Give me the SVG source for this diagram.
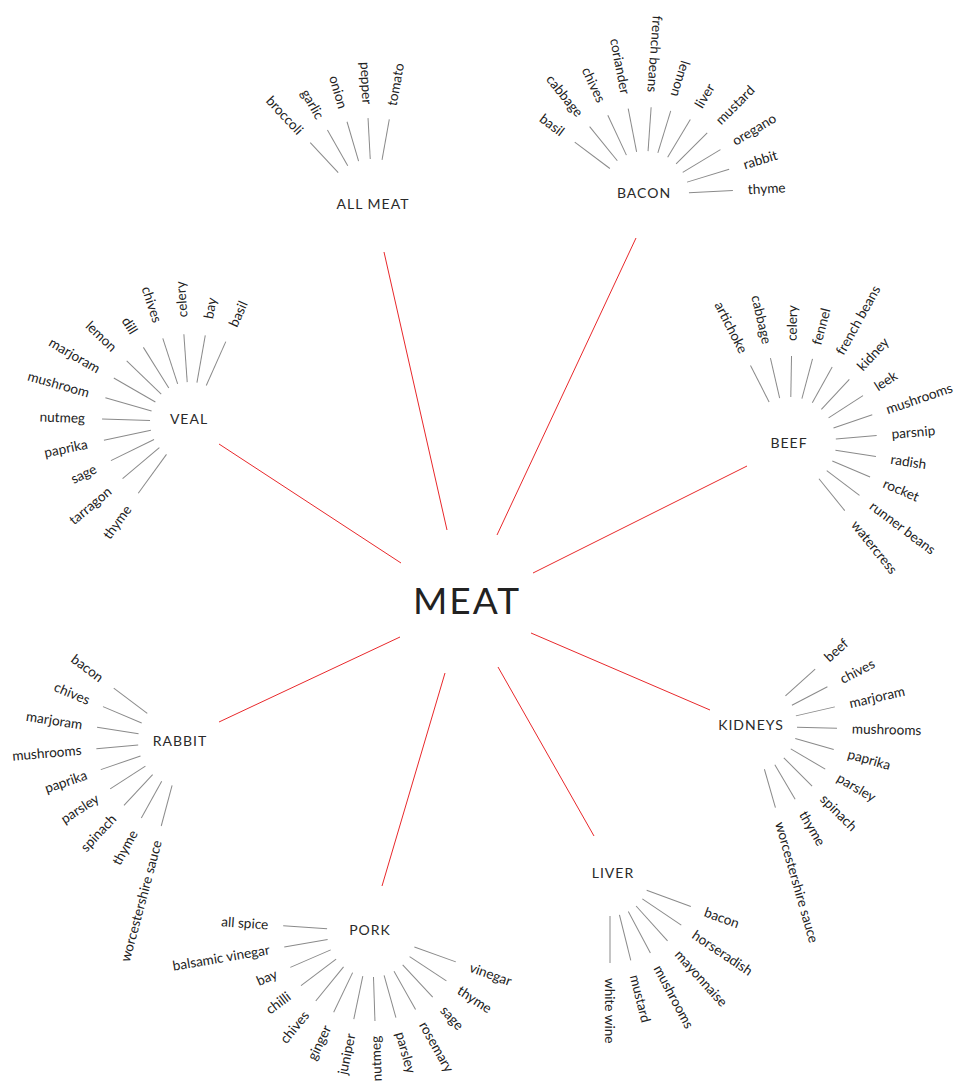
<svg xmlns="http://www.w3.org/2000/svg" width="967" height="1087" viewBox="0 0 967 1087">
<style>
.sp line{stroke:#8a8a8a;stroke-width:1}
.sp text{font-family:Lato,"Liberation Sans",sans-serif;font-size:13.6px;fill:#222}
.sp text.in{text-anchor:end}
.nl{font-family:Lato,"Liberation Sans",sans-serif;font-size:14px;letter-spacing:1px;fill:#2a2a2a;text-anchor:middle}
.main{font-family:Lato,"Liberation Sans",sans-serif;font-size:37px;letter-spacing:2px;fill:#222;text-anchor:middle}
.cn line{stroke:#e8282b;stroke-width:1}
</style>
<rect width="967" height="1087" fill="#fff"/>
<g id="connectors" class="cn">
<line x1="447" y1="530" x2="384" y2="252"/>
<line x1="497" y1="535" x2="636" y2="238"/>
<line x1="533" y1="573" x2="747" y2="466"/>
<line x1="531" y1="633" x2="710" y2="710"/>
<line x1="498" y1="667" x2="594" y2="836"/>
<line x1="445" y1="673" x2="382" y2="886"/>
<line x1="400" y1="637" x2="219" y2="722"/>
<line x1="401" y1="563" x2="219" y2="444"/>
</g>
<g id="node-meat"><text class="main" x="467" y="614">MEAT</text></g>
<g id="node-allmeat">
<text class="nl" x="373" y="209">ALL MEAT</text>
<g class="sp" transform="translate(373,210)">
<g transform="rotate(-133)"><line x1="51" x2="92"/><text class="in" transform="rotate(180)" x="-106" dy=".35em">broccoli</text></g>
<g transform="rotate(-119.7)"><line x1="51" x2="92"/><text class="in" transform="rotate(180)" x="-106" dy=".35em">garlic</text></g>
<g transform="rotate(-106.4)"><line x1="51" x2="92"/><text class="in" transform="rotate(180)" x="-106" dy=".35em">onion</text></g>
<g transform="rotate(-93.1)"><line x1="51" x2="92"/><text class="in" transform="rotate(180)" x="-106" dy=".35em">pepper</text></g>
<g transform="rotate(-79.8)"><line x1="51" x2="92"/><text x="106" dy=".35em">tomato</text></g>
</g>
</g>
<g id="node-bacon">
<text class="nl" x="644" y="198">BACON</text>
<g class="sp" transform="translate(645,195)">
<g transform="rotate(-143)"><line x1="44" x2="88"/><text class="in" transform="rotate(180)" x="-103" dy=".35em">basil</text></g>
<g transform="rotate(-129)"><line x1="44" x2="88"/><text class="in" transform="rotate(180)" x="-103" dy=".35em">cabbage</text></g>
<g transform="rotate(-115)"><line x1="44" x2="88"/><text class="in" transform="rotate(180)" x="-103" dy=".35em">chives</text></g>
<g transform="rotate(-101)"><line x1="44" x2="88"/><text class="in" transform="rotate(180)" x="-103" dy=".35em">coriander</text></g>
<g transform="rotate(-86)"><line x1="44" x2="88"/><text class="in" transform="rotate(180)" x="-103" dy=".35em">french beans</text></g>
<g transform="rotate(-73)"><line x1="44" x2="88"/><text class="in" transform="rotate(180)" x="-103" dy=".35em">lemon</text></g>
<g transform="rotate(-59)"><line x1="44" x2="88"/><text x="103" dy=".35em">liver</text></g>
<g transform="rotate(-45)"><line x1="44" x2="88"/><text x="103" dy=".35em">mustard</text></g>
<g transform="rotate(-31)"><line x1="44" x2="88"/><text x="103" dy=".35em">oregano</text></g>
<g transform="rotate(-17)"><line x1="44" x2="88"/><text x="103" dy=".35em">rabbit</text></g>
<g transform="rotate(-3)"><line x1="44" x2="88"/><text x="103" dy=".35em">thyme</text></g>
</g>
</g>
<g id="node-veal">
<text class="nl" x="189" y="424">VEAL</text>
<g class="sp" transform="translate(190,422)">
<g transform="rotate(-66)"><line x1="40" x2="88"/><text x="105" dy=".35em">basil</text></g>
<g transform="rotate(-80)"><line x1="40" x2="88"/><text x="105" dy=".35em">bay</text></g>
<g transform="rotate(-94)"><line x1="40" x2="88"/><text x="105" dy=".35em">celery</text></g>
<g transform="rotate(-108)"><line x1="40" x2="88"/><text class="in" transform="rotate(180)" x="-105" dy=".35em">chives</text></g>
<g transform="rotate(-122)"><line x1="40" x2="88"/><text class="in" transform="rotate(180)" x="-105" dy=".35em">dill</text></g>
<g transform="rotate(-136)"><line x1="40" x2="88"/><text class="in" transform="rotate(180)" x="-105" dy=".35em">lemon</text></g>
<g transform="rotate(-150)"><line x1="40" x2="88"/><text class="in" transform="rotate(180)" x="-105" dy=".35em">marjoram</text></g>
<g transform="rotate(-164)"><line x1="40" x2="88"/><text class="in" transform="rotate(180)" x="-105" dy=".35em">mushroom</text></g>
<g transform="rotate(-178)"><line x1="40" x2="88"/><text class="in" transform="rotate(180)" x="-105" dy=".35em">nutmeg</text></g>
<g transform="rotate(168)"><line x1="40" x2="88"/><text class="in" transform="rotate(180)" x="-105" dy=".35em">paprika</text></g>
<g transform="rotate(154)"><line x1="40" x2="88"/><text class="in" transform="rotate(180)" x="-105" dy=".35em">sage</text></g>
<g transform="rotate(140)"><line x1="40" x2="88"/><text class="in" transform="rotate(180)" x="-105" dy=".35em">tarragon</text></g>
<g transform="rotate(126)"><line x1="40" x2="88"/><text class="in" transform="rotate(180)" x="-105" dy=".35em">thyme</text></g>
</g>
</g>
<g id="node-beef">
<text class="nl" x="789" y="448">BEEF</text>
<g class="sp" transform="translate(790,443)">
<g transform="rotate(-117)"><line x1="46" x2="87"/><text class="in" transform="rotate(180)" x="-102" dy=".35em">artichoke</text></g>
<g transform="rotate(-103)"><line x1="46" x2="87"/><text class="in" transform="rotate(180)" x="-102" dy=".35em">cabbage</text></g>
<g transform="rotate(-89)"><line x1="46" x2="87"/><text x="102" dy=".35em">celery</text></g>
<g transform="rotate(-75)"><line x1="46" x2="87"/><text x="102" dy=".35em">fennel</text></g>
<g transform="rotate(-61)"><line x1="46" x2="87"/><text x="102" dy=".35em">french beans</text></g>
<g transform="rotate(-47)"><line x1="46" x2="87"/><text x="102" dy=".35em">kidney</text></g>
<g transform="rotate(-33)"><line x1="46" x2="87"/><text x="102" dy=".35em">leek</text></g>
<g transform="rotate(-19)"><line x1="46" x2="87"/><text x="102" dy=".35em">mushrooms</text></g>
<g transform="rotate(-5)"><line x1="46" x2="87"/><text x="102" dy=".35em">parsnip</text></g>
<g transform="rotate(9)"><line x1="46" x2="87"/><text x="102" dy=".35em">radish</text></g>
<g transform="rotate(23)"><line x1="46" x2="87"/><text x="102" dy=".35em">rocket</text></g>
<g transform="rotate(37)"><line x1="46" x2="87"/><text x="102" dy=".35em">runner beans</text></g>
<g transform="rotate(51)"><line x1="46" x2="87"/><text x="102" dy=".35em">watercress</text></g>
</g>
</g>
<g id="node-kidneys">
<text class="nl" x="751" y="730">KIDNEYS</text>
<g class="sp" transform="translate(752,726)">
<g transform="rotate(-42)"><line x1="45" x2="85"/><text x="100" dy=".35em">beef</text></g>
<g transform="rotate(-27.5)"><line x1="45" x2="85"/><text x="100" dy=".35em">chives</text></g>
<g transform="rotate(-13)"><line x1="45" x2="85"/><text x="100" dy=".35em">marjoram</text></g>
<g transform="rotate(1.5)"><line x1="45" x2="85"/><text x="100" dy=".35em">mushrooms</text></g>
<g transform="rotate(16)"><line x1="45" x2="85"/><text x="100" dy=".35em">paprika</text></g>
<g transform="rotate(30.5)"><line x1="45" x2="85"/><text x="100" dy=".35em">parsley</text></g>
<g transform="rotate(45)"><line x1="45" x2="85"/><text x="100" dy=".35em">spinach</text></g>
<g transform="rotate(59.5)"><line x1="45" x2="85"/><text x="100" dy=".35em">thyme</text></g>
<g transform="rotate(74)"><line x1="45" x2="85"/><text x="100" dy=".35em">worcestershire sauce</text></g>
</g>
</g>
<g id="node-liver">
<text class="nl" x="613" y="878">LIVER</text>
<g class="sp" transform="translate(610,877)">
<g transform="rotate(20)"><line x1="39" x2="86"/><text x="101" dy=".35em">bacon</text></g>
<g transform="rotate(34)"><line x1="39" x2="86"/><text x="101" dy=".35em">horseradish</text></g>
<g transform="rotate(48)"><line x1="39" x2="86"/><text x="101" dy=".35em">mayonnaise</text></g>
<g transform="rotate(62)"><line x1="39" x2="86"/><text x="101" dy=".35em">mushrooms</text></g>
<g transform="rotate(76)"><line x1="39" x2="86"/><text x="101" dy=".35em">mustard</text></g>
<g transform="rotate(90)"><line x1="39" x2="86"/><text x="101" dy=".35em">white wine</text></g>
</g>
</g>
<g id="node-pork">
<text class="nl" x="370" y="935">PORK</text>
<g class="sp" transform="translate(372,932)">
<g transform="rotate(184)"><line x1="45" x2="89"/><text class="in" transform="rotate(180)" x="-104" dy=".35em">all spice</text></g>
<g transform="rotate(170.3)"><line x1="45" x2="89"/><text class="in" transform="rotate(180)" x="-104" dy=".35em">balsamic vinegar</text></g>
<g transform="rotate(156.6)"><line x1="45" x2="89"/><text class="in" transform="rotate(180)" x="-104" dy=".35em">bay</text></g>
<g transform="rotate(142.9)"><line x1="45" x2="89"/><text class="in" transform="rotate(180)" x="-104" dy=".35em">chilli</text></g>
<g transform="rotate(129.2)"><line x1="45" x2="89"/><text class="in" transform="rotate(180)" x="-104" dy=".35em">chives</text></g>
<g transform="rotate(115.5)"><line x1="45" x2="89"/><text class="in" transform="rotate(180)" x="-104" dy=".35em">ginger</text></g>
<g transform="rotate(101.8)"><line x1="45" x2="89"/><text class="in" transform="rotate(180)" x="-104" dy=".35em">juniper</text></g>
<g transform="rotate(88.1)"><line x1="45" x2="89"/><text class="in" transform="rotate(180)" x="-104" dy=".35em">nutmeg</text></g>
<g transform="rotate(74.4)"><line x1="45" x2="89"/><text x="104" dy=".35em">parsley</text></g>
<g transform="rotate(60.7)"><line x1="45" x2="89"/><text x="104" dy=".35em">rosemary</text></g>
<g transform="rotate(47)"><line x1="45" x2="89"/><text x="104" dy=".35em">sage</text></g>
<g transform="rotate(33.3)"><line x1="45" x2="89"/><text x="104" dy=".35em">thyme</text></g>
<g transform="rotate(19.6)"><line x1="45" x2="89"/><text x="104" dy=".35em">vinegar</text></g>
</g>
</g>
<g id="node-rabbit">
<text class="nl" x="180" y="746">RABBIT</text>
<g class="sp" transform="translate(184,741)">
<g transform="rotate(217)"><line x1="46" x2="88"/><text class="in" transform="rotate(180)" x="-103" dy=".35em">bacon</text></g>
<g transform="rotate(203)"><line x1="46" x2="88"/><text class="in" transform="rotate(180)" x="-103" dy=".35em">chives</text></g>
<g transform="rotate(189)"><line x1="46" x2="88"/><text class="in" transform="rotate(180)" x="-103" dy=".35em">marjoram</text></g>
<g transform="rotate(175)"><line x1="46" x2="88"/><text class="in" transform="rotate(180)" x="-103" dy=".35em">mushrooms</text></g>
<g transform="rotate(161)"><line x1="46" x2="88"/><text class="in" transform="rotate(180)" x="-103" dy=".35em">paprika</text></g>
<g transform="rotate(147)"><line x1="46" x2="88"/><text class="in" transform="rotate(180)" x="-103" dy=".35em">parsley</text></g>
<g transform="rotate(133)"><line x1="46" x2="88"/><text class="in" transform="rotate(180)" x="-103" dy=".35em">spinach</text></g>
<g transform="rotate(119)"><line x1="46" x2="88"/><text class="in" transform="rotate(180)" x="-103" dy=".35em">thyme</text></g>
<g transform="rotate(105)"><line x1="46" x2="88"/><text class="in" transform="rotate(180)" x="-103" dy=".35em">worcestershire sauce</text></g>
</g>
</g>
</svg>
